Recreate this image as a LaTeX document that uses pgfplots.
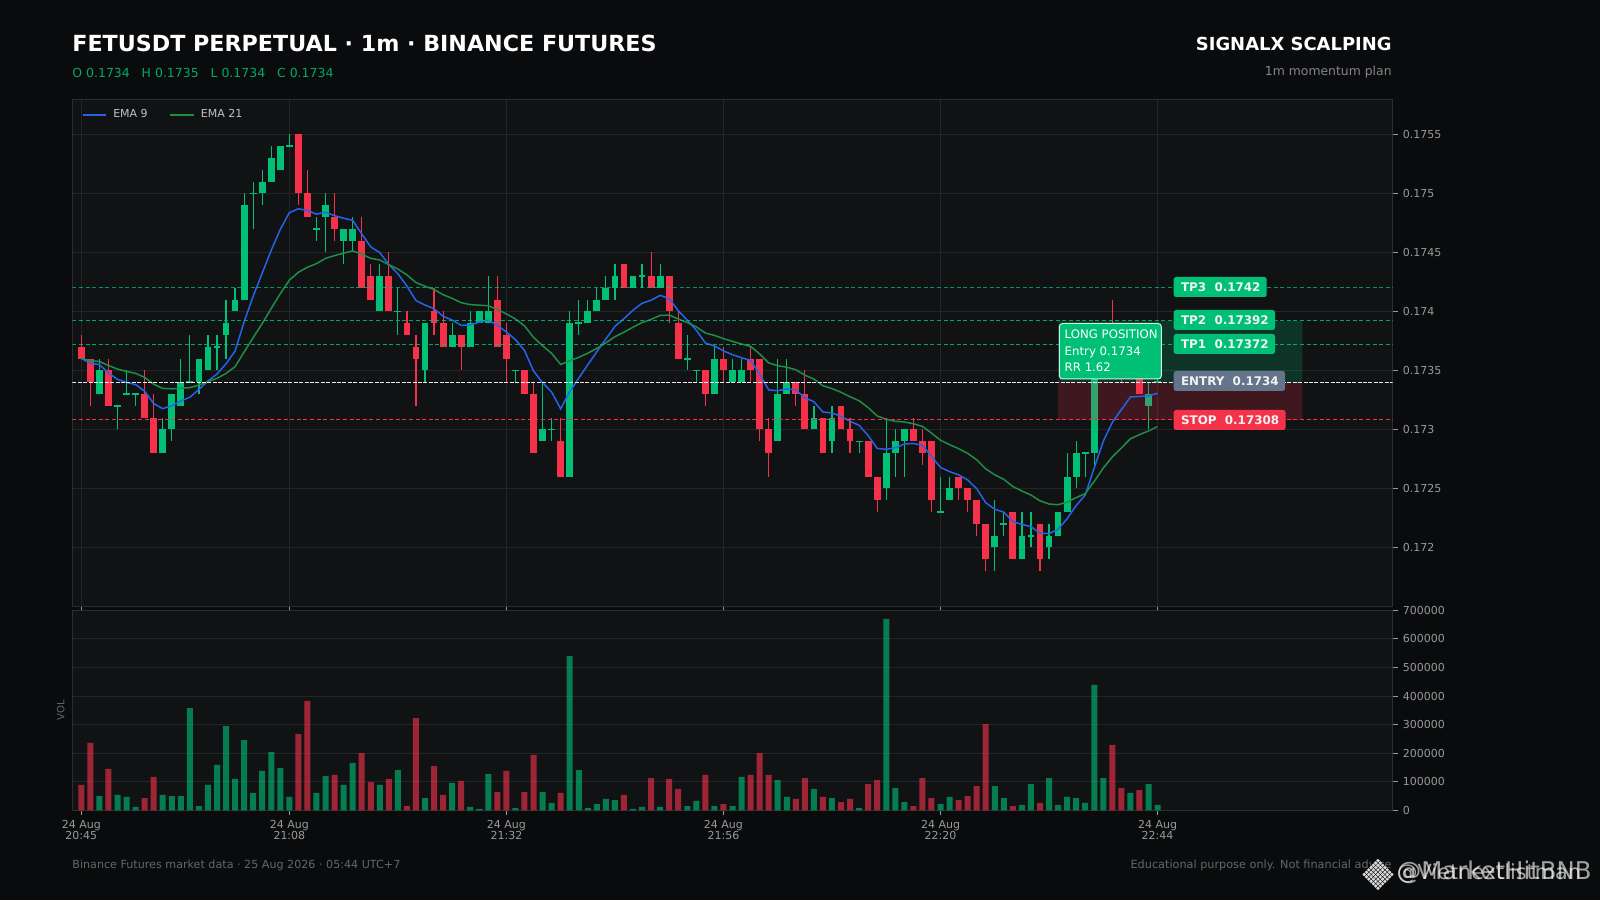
\documentclass[border=0pt]{standalone}
\usepackage{fontspec}
\setmainfont{DejaVu Sans}
\usepackage{pgfplots}
\usepackage{pgfplotstable}
\pgfplotsset{compat=1.18}
\definecolor{pagebg}{HTML}{0A0B0D}
\definecolor{plotbg}{HTML}{111214}
\definecolor{gridc}{HTML}{242528}
\definecolor{framec}{HTML}{2C2D31}
\definecolor{up}{HTML}{00C076}
\definecolor{down}{HTML}{F6324A}
\definecolor{emab}{HTML}{2563EB}
\definecolor{emag}{HTML}{1E8E46}
\definecolor{ticktxt}{HTML}{9A9A9A}
\definecolor{slatec}{HTML}{64748B}
\newcommand{\fs}[1]{\fontsize{#1}{#1}\selectfont}
% i open close high low volume
\pgfplotstableread{
i o c h l v
2 0.1733 0.1735 0.1736 0.1733 50000
4 0.1732 0.1732 0.1732 0.1730 54000
5 0.1733 0.1733 0.1735 0.1733 47000
6 0.1733 0.1733 0.1733 0.1732 12000
9 0.1728 0.1730 0.1731 0.1728 54000
10 0.1730 0.1733 0.1733 0.1729 50000
11 0.1732 0.1734 0.1736 0.1732 50000
12 0.1734 0.1734 0.1738 0.1734 358000
13 0.1734 0.1736 0.1736 0.1733 15000
14 0.1735 0.1737 0.1738 0.1735 89000
15 0.1737 0.1737 0.1738 0.1735 159000
16 0.1738 0.1739 0.1741 0.1736 295000
17 0.1740 0.1741 0.1742 0.1740 110000
18 0.1741 0.1749 0.1750 0.1741 246000
19 0.1750 0.1750 0.1751 0.1747 61000
20 0.1750 0.1751 0.1752 0.1749 138000
21 0.1751 0.1753 0.1754 0.1751 204000
22 0.1752 0.1754 0.1754 0.1752 148000
23 0.1754 0.1754 0.1755 0.1754 47000
26 0.1747 0.1747 0.1748 0.1746 61000
27 0.1748 0.1749 0.1750 0.1745 120000
29 0.1746 0.1747 0.1747 0.1744 89000
30 0.1746 0.1747 0.1748 0.1745 166000
33 0.1740 0.1743 0.1744 0.1740 89000
35 0.1740 0.1740 0.1742 0.1738 141000
38 0.1735 0.1739 0.1739 0.1734 43000
41 0.1737 0.1738 0.1739 0.1737 96000
43 0.1737 0.1739 0.1740 0.1737 12000
44 0.1739 0.1740 0.1740 0.1739 5000
45 0.1739 0.1740 0.1743 0.1739 127000
48 0.1735 0.1735 0.1735 0.1734 8000
51 0.1729 0.1730 0.1734 0.1729 64000
52 0.1730 0.1730 0.1731 0.1729 26000
54 0.1726 0.1739 0.1740 0.1726 540000
55 0.1739 0.1739 0.1741 0.1738 141000
56 0.1739 0.1740 0.1741 0.1739 8000
57 0.1740 0.1741 0.1742 0.1740 22000
58 0.1741 0.1742 0.1743 0.1741 40000
59 0.1742 0.1743 0.1744 0.1741 36000
61 0.1742 0.1743 0.1743 0.1742 5000
62 0.1743 0.1743 0.1744 0.1742 12000
64 0.1742 0.1743 0.1744 0.1742 12000
67 0.1736 0.1736 0.1738 0.1735 15000
68 0.1735 0.1735 0.1735 0.1734 33000
70 0.1733 0.1736 0.1737 0.1733 15000
72 0.1734 0.1735 0.1736 0.1734 15000
73 0.1734 0.1735 0.1736 0.1734 117000
77 0.1729 0.1733 0.1736 0.1729 106000
78 0.1733 0.1734 0.1736 0.1733 47000
81 0.1730 0.1731 0.1732 0.1730 75000
83 0.1729 0.1731 0.1732 0.1728 43000
86 0.1729 0.1729 0.1729 0.1728 8000
89 0.1725 0.1728 0.1731 0.1724 670000
90 0.1728 0.1729 0.1730 0.1726 78000
91 0.1729 0.1730 0.1730 0.1726 29000
95 0.1723 0.1723 0.1726 0.1723 22000
96 0.1724 0.1725 0.1726 0.1724 47000
101 0.1720 0.1721 0.1724 0.1718 85000
102 0.1722 0.1722 0.1723 0.1721 43000
104 0.1719 0.1721 0.1723 0.1719 19000
105 0.1721 0.1721 0.1723 0.1720 92000
107 0.1720 0.1721 0.1722 0.1719 113000
108 0.1721 0.1723 0.1723 0.1721 19000
109 0.1723 0.1726 0.1728 0.1723 47000
110 0.1726 0.1728 0.1729 0.1725 43000
111 0.1728 0.1728 0.1728 0.1726 26000
112 0.1728 0.1736 0.1736 0.1727 439000
113 0.1736 0.1738 0.1739 0.1736 113000
116 0.1736 0.1737 0.1737 0.1736 61000
118 0.1732 0.1733 0.1734 0.1730 92000
119 0.1734 0.1734 0.1735 0.1734 19000
}\upcandles
\pgfplotstableread{
i o c h l v
0 0.1737 0.1736 0.1738 0.1736 89000
1 0.1736 0.1734 0.1736 0.1732 236000
3 0.1735 0.1732 0.1736 0.1732 145000
7 0.1733 0.1731 0.1735 0.1731 43000
8 0.1731 0.1728 0.1733 0.1728 117000
24 0.1755 0.1750 0.1755 0.1749 267000
25 0.1750 0.1748 0.1752 0.1748 383000
28 0.1748 0.1747 0.1750 0.1746 124000
31 0.1746 0.1742 0.1748 0.1742 200000
32 0.1743 0.1741 0.1744 0.1741 99000
34 0.1743 0.1740 0.1745 0.1740 110000
36 0.1739 0.1738 0.1740 0.1738 15000
37 0.1737 0.1736 0.1738 0.1732 323000
39 0.1740 0.1739 0.1742 0.1738 155000
40 0.1739 0.1737 0.1740 0.1737 54000
42 0.1738 0.1737 0.1738 0.1735 103000
46 0.1741 0.1737 0.1743 0.1737 64000
47 0.1738 0.1736 0.1739 0.1734 138000
49 0.1735 0.1733 0.1735 0.1733 64000
50 0.1733 0.1728 0.1734 0.1728 194000
53 0.1729 0.1726 0.1731 0.1726 61000
60 0.1744 0.1742 0.1744 0.1742 54000
63 0.1743 0.1742 0.1745 0.1742 113000
65 0.1743 0.1740 0.1743 0.1739 110000
66 0.1739 0.1736 0.1740 0.1736 75000
69 0.1735 0.1733 0.1735 0.1732 124000
71 0.1736 0.1735 0.1737 0.1734 22000
74 0.1736 0.1735 0.1737 0.1734 124000
75 0.1736 0.1730 0.1736 0.1729 200000
76 0.1730 0.1728 0.1731 0.1726 124000
79 0.1734 0.1733 0.1734 0.1732 40000
80 0.1733 0.1730 0.1735 0.1730 113000
82 0.1731 0.1728 0.1731 0.1728 47000
84 0.1732 0.1730 0.1732 0.1730 29000
85 0.1730 0.1729 0.1731 0.1728 40000
87 0.1729 0.1726 0.1729 0.1726 92000
88 0.1726 0.1724 0.1726 0.1723 106000
92 0.1730 0.1729 0.1731 0.1729 15000
93 0.1729 0.1728 0.1730 0.1727 113000
94 0.1729 0.1724 0.1729 0.1723 43000
97 0.1726 0.1725 0.1726 0.1724 36000
98 0.1725 0.1724 0.1725 0.1723 50000
99 0.1724 0.1722 0.1724 0.1721 85000
100 0.1722 0.1719 0.1722 0.1718 302000
103 0.1723 0.1719 0.1723 0.1719 15000
106 0.1722 0.1719 0.1722 0.1718 26000
114 0.1738 0.1737 0.1741 0.1736 229000
115 0.1737 0.1736 0.1737 0.1734 78000
117 0.1735 0.1733 0.1735 0.1733 71000
}\downcandles
\pgfplotstableread{
i e9 e21
0 0.173600 0.173600
1 0.173560 0.173582
2 0.173548 0.173575
3 0.173478 0.173541
4 0.173423 0.173510
5 0.173398 0.173491
6 0.173379 0.173474
7 0.173323 0.173440
8 0.173218 0.173382
9 0.173175 0.173347
10 0.173200 0.173343
11 0.173240 0.173348
12 0.173272 0.173353
13 0.173338 0.173375
14 0.173410 0.173405
15 0.173468 0.173432
16 0.173555 0.173474
17 0.173664 0.173531
18 0.173911 0.173655
19 0.174129 0.173777
20 0.174323 0.173897
21 0.174518 0.174025
22 0.174695 0.174150
23 0.174836 0.174264
24 0.174869 0.174331
25 0.174855 0.174374
26 0.174824 0.174404
27 0.174839 0.174449
28 0.174811 0.174472
29 0.174789 0.174493
30 0.174771 0.174512
31 0.174657 0.174484
32 0.174546 0.174449
33 0.174497 0.174435
34 0.174397 0.174395
35 0.174318 0.174359
36 0.174214 0.174308
37 0.174091 0.174244
38 0.174053 0.174213
39 0.174022 0.174185
40 0.173958 0.174141
41 0.173926 0.174110
42 0.173881 0.174073
43 0.173885 0.174057
44 0.173908 0.174052
45 0.173926 0.174047
46 0.173881 0.174016
47 0.173825 0.173978
48 0.173760 0.173935
49 0.173668 0.173877
50 0.173494 0.173779
51 0.173395 0.173708
52 0.173316 0.173644
53 0.173173 0.173549
54 0.173318 0.173581
55 0.173434 0.173610
56 0.173547 0.173645
57 0.173658 0.173686
58 0.173766 0.173733
59 0.173873 0.173785
60 0.173938 0.173823
61 0.174010 0.173866
62 0.174068 0.173905
63 0.174094 0.173932
64 0.174135 0.173965
65 0.174108 0.173968
66 0.174006 0.173935
67 0.173925 0.173905
68 0.173840 0.173868
69 0.173732 0.173816
70 0.173706 0.173796
71 0.173665 0.173769
72 0.173632 0.173745
73 0.173606 0.173723
74 0.173585 0.173703
75 0.173468 0.173639
76 0.173334 0.173563
77 0.173327 0.173539
78 0.173342 0.173526
79 0.173334 0.173505
80 0.173267 0.173459
81 0.173234 0.173426
82 0.173147 0.173369
83 0.173138 0.173345
84 0.173110 0.173314
85 0.173068 0.173276
86 0.173034 0.173242
87 0.172947 0.173184
88 0.172838 0.173113
89 0.172830 0.173085
90 0.172844 0.173068
91 0.172875 0.173062
92 0.172880 0.173047
93 0.172864 0.173025
94 0.172771 0.172968
95 0.172677 0.172907
96 0.172642 0.172870
97 0.172614 0.172836
98 0.172571 0.172796
99 0.172497 0.172742
100 0.172378 0.172665
101 0.172322 0.172614
102 0.172298 0.172576
103 0.172218 0.172515
104 0.172194 0.172477
105 0.172175 0.172443
106 0.172120 0.172394
107 0.172116 0.172367
108 0.172153 0.172361
109 0.172242 0.172383
110 0.172354 0.172421
111 0.172443 0.172455
112 0.172674 0.172559
113 0.172899 0.172672
114 0.173059 0.172766
115 0.173167 0.172842
116 0.173274 0.172920
117 0.173279 0.172955
118 0.173283 0.172986
119 0.173306 0.173024
}\emas
\newcommand{\lvltag}[5]{%
  \fill[#4, rounded corners=1.2pt] (#1,#3-10) rectangle (#2,#3+10);
  \node[anchor=mid west, inner sep=0pt, text=white!95!black, font=\fs{5.95}\bfseries] at (#1+7,#3-0.5) {#5};}
\begin{document}
\begin{tikzpicture}[font=\fs{5.5}]
\useasboundingbox (0,0) rectangle (800pt,450pt);
\fill[pagebg] (0,0) rectangle (800pt,450pt);
\pgfplotsset{
  base/.style={
    scale only axis, anchor=south west, width=660.2pt,
    xmin=-1, xmax=145,
    axis background/.style={fill=plotbg},
    axis line style={color=framec, line width=0.5pt},
    grid style={color=gridc, line width=0.5pt},
    tick align=outside, major tick length=2.5pt,
    y tick style={color=ticktxt, line width=0.4pt},
    x tick style={color=ticktxt, line width=0.4pt},
    ytick pos=right, yticklabel pos=right, xtick pos=bottom,
    scaled y ticks=false,
    yticklabel style={color=ticktxt, font=\fs{5.5}, xshift=-1pt},
    xticklabel style={color=ticktxt, font=\fs{5.5}, align=center, yshift=1pt},
    xtick={0,23,47,71,95,119},
    clip=true,
  },
  candle/.style={forget plot, draw=none, mark=none, error bars/.cd, y dir=both, y explicit, error mark=none,
    error bar style={color=#1}},
}
% ---------- price panel
\begin{axis}[base,
  at={(36.15pt,146.85pt)}, height=253.5pt,
  ymin=0.1715, ymax=0.175797,
  xticklabels={},
  ytick={0.172,0.1725,0.173,0.1735,0.174,0.1745,0.175,0.1755},
  yticklabels={0.172,0.1725,0.173,0.1735,0.174,0.1745,0.175,0.1755},
  grid=major,
  legend style={at={(axis description cs:0.0071,0.969)}, anchor=west, draw=none, fill=none,
    text=ticktxt!60!white, font=\fs{5.5}, inner sep=0pt, row sep=0pt,
    nodes={inner sep=0pt},
    /tikz/column 1/.style={column sep=3.15pt},
    /tikz/column 2/.style={column sep=11pt},
    /tikz/column 3/.style={column sep=3.15pt}},
  legend columns=2,
  legend image code/.code={\draw[#1] (0pt,0pt) -- (11.7pt,0pt);},
]
% wicks
\addplot[candle=up, /pgfplots/error bars/error bar style={line width=0.6pt}]
  table[x=i, y expr={(\thisrow{h}+\thisrow{l})/2}, y error expr={(\thisrow{h}-\thisrow{l})/2}] {\upcandles};
\addplot[candle=down, /pgfplots/error bars/error bar style={line width=0.6pt}]
  table[x=i, y expr={(\thisrow{h}+\thisrow{l})/2}, y error expr={(\thisrow{h}-\thisrow{l})/2}] {\downcandles};
% bodies
\addplot[candle=up, /pgfplots/error bars/error bar style={line width=3.4pt}]
  table[x=i, y expr={(\thisrow{o}+\thisrow{c})/2}, y error expr={max((\thisrow{c}-\thisrow{o})/2,0.000006)}] {\upcandles};
\addplot[candle=down, /pgfplots/error bars/error bar style={line width=3.4pt}]
  table[x=i, y expr={(\thisrow{o}+\thisrow{c})/2}, y error expr={(\thisrow{o}-\thisrow{c})/2}] {\downcandles};
% position zones
\addplot[forget plot, fill=up, fill opacity=0.2, draw=none] coordinates {(108,0.1734)(135,0.1734)(135,0.17392)(108,0.17392)(108,0.1734)};
\addplot[forget plot, fill=down, fill opacity=0.2, draw=none] coordinates {(108,0.17308)(135,0.17308)(135,0.1734)(108,0.1734)(108,0.17308)};
% EMAs
\addplot[color=emab, line width=0.75pt] table[x=i, y=e9] {\emas};
\addlegendentry{EMA 9}
\addplot[color=emag, line width=0.75pt] table[x=i, y=e21] {\emas};
\addlegendentry{EMA 21}
% levels
\addplot[forget plot, color=up, opacity=0.75, line width=0.45pt, dash pattern=on 2pt off 1.3pt] coordinates {(-1,0.1742)(145,0.1742)};
\addplot[forget plot, color=up, opacity=0.85, line width=0.45pt, dash pattern=on 2pt off 1.3pt] coordinates {(-1,0.17392)(145,0.17392)};
\addplot[forget plot, color=up, opacity=0.85, line width=0.45pt, dash pattern=on 2pt off 1.3pt] coordinates {(-1,0.17372)(145,0.17372)};
\addplot[forget plot, color=white!92!black, line width=0.55pt, dash pattern=on 2pt off 0.7pt] coordinates {(-1,0.1734)(145,0.1734)};
\addplot[forget plot, color=down, line width=0.45pt, dash pattern=on 2pt off 1.3pt] coordinates {(-1,0.17308)(145,0.17308)};
\end{axis}
% ---------- volume panel
\begin{axis}[base,
  at={(36.15pt,44.85pt)}, height=100pt,
  ymin=0, ymax=700000,
  ytick={0,100000,200000,300000,400000,500000,600000,700000},
  yticklabels={0,100000,200000,300000,400000,500000,600000,700000},
  xticklabels={{24 Aug\\20:45},{24 Aug\\21:08},{24 Aug\\21:32},{24 Aug\\21:56},{24 Aug\\22:20},{24 Aug\\22:44}},
  ymajorgrids=true,
  ylabel={VOL}, ylabel style={color=white!40!black, font=\fs{5}, at={(axis description cs:-0.0005,0.5)}, anchor=south},
]
\addplot[ybar, bar width=3pt, bar shift=0pt, fill=up, fill opacity=0.62, draw=none] table[x=i, y=v] {\upcandles};
\addplot[ybar, bar width=3pt, bar shift=0pt, fill=down, fill opacity=0.62, draw=none] table[x=i, y=v] {\downcandles};
\end{axis}
% ---------- annotations in page pixels
\begin{scope}[shift={(0,450pt)}, x=0.5pt, y=-0.5pt]
\node[anchor=mid west, inner sep=0pt, text=white, font=\fs{11.1}\bfseries] at (72,46) {FETUSDT PERPETUAL · 1m · BINANCE FUTURES};
\node[anchor=mid west, inner sep=0pt, text=up!88!black, font=\fs{6.24}] at (72,72) {O 0.1734\ \ \ H 0.1735\ \ \ L 0.1734\ \ \ C 0.1734};
\node[anchor=mid east, inner sep=0pt, text=white, font=\fs{8.97}\bfseries] at (1392,45.5) {SIGNALX SCALPING};
\node[anchor=mid east, inner sep=0pt, text=white!52!black, font=\fs{6.2}] at (1392,70) {1m momentum plan};
\node[anchor=mid west, inner sep=0pt, text=white!40!black, font=\fs{5.57}] at (72,863) {Binance Futures market data · 25 Aug 2026 · 05:44 UTC+7};
\node[anchor=mid east, inner sep=0pt, text=white!40!black, font=\fs{5.63}] at (1392,863) {Educational purpose only. Not financial advice};
% level tags
\lvltag{1173.7}{1266.7}{287}{up}{TP3\ \ 0.1742}
\lvltag{1173.7}{1275}{320}{up}{TP2\ \ 0.17392}
\lvltag{1173.7}{1275}{344}{up}{TP1\ \ 0.17372}
\lvltag{1173.7}{1285}{381}{slatec}{ENTRY\ \ 0.1734}
\lvltag{1173.7}{1285.5}{420}{down}{STOP\ \ 0.17308}
% position card
\filldraw[fill=up, draw=white!80!up, line width=0.5pt, rounded corners=1.6pt] (1059.3,323.5) rectangle (1161.3,379);
\node[anchor=mid west, inner sep=0pt, text=white, font=\fs{5.87}] at (1064.3,333.5) {LONG POSITION};
\node[anchor=mid west, inner sep=0pt, text=white, font=\fs{5.87}] at (1064.3,350.5) {Entry 0.1734};
\node[anchor=mid west, inner sep=0pt, text=white, font=\fs{5.87}] at (1064.3,366.5) {RR 1.62};
% watermark
\foreach \u in {-3,...,3}{\foreach \v in {-3,...,3}{
  \pgfmathsetmacro{\cx}{1378+(\u+\v)*2.3}
  \pgfmathsetmacro{\cy}{874.5+(\u-\v)*2.3}
  \fill[white!85!black] (\cx,\cy-1.8) -- (\cx+1.8,\cy) -- (\cx,\cy+1.8) -- (\cx-1.8,\cy) -- cycle;
}}
\node[anchor=mid west, inner sep=0pt, text=white, opacity=0.62, font=\fs{12.2}] at (1396.5,874) {@MarketHitBNB};
\node[anchor=mid west, inner sep=0pt, text=white, opacity=0.62, font=\fs{10.4}] at (1396.5,874) {@Vietnextlistman};
\end{scope}
\end{tikzpicture}
\end{document}
